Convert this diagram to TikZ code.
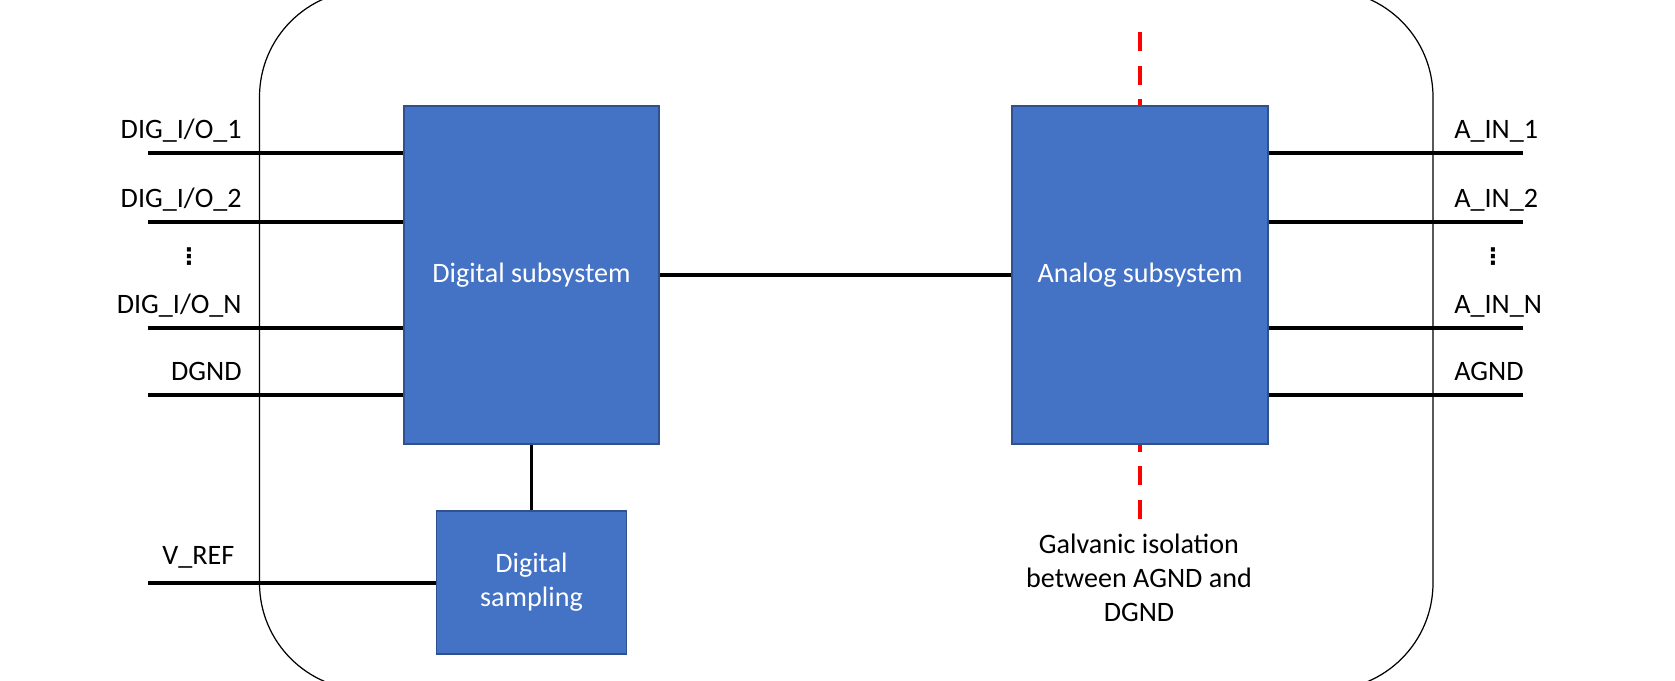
\documentclass[tikz,border=0pt]{standalone}
\usepackage{fontspec}
\setmainfont{Carlito}
\newfontfamily\symfont{DejaVu Sans}
\usepackage{xcolor}
\definecolor{boxblue}{RGB}{68,114,196}
\definecolor{boxedge}{RGB}{47,82,143}
\definecolor{isored}{RGB}{255,0,0}
\usepackage{tikz}
\usetikzlibrary{positioning}

\begin{document}
\begin{tikzpicture}[
  subsys/.style={
    rectangle, draw=boxedge, line width=0.6pt,
    fill=boxblue,
    font=\fontsize{16}{19.3}\selectfont,
    align=center,
    text=white
  },
  sigline/.style={line width=2pt, draw=black},
  isoline/.style={line width=2.5pt, draw=isored, dash pattern=on 0.386cm off 0.286cm},
  pinlabel/.style={font=\fontsize{16}{19.3}\selectfont, inner sep=0pt},
  pindots/.style={font=\symfont\bfseries\fontsize{13}{15}\selectfont, inner sep=0pt}
]
\useasboundingbox (0,0) rectangle (33.5,13.62);

% housing
\draw[line width=0.7pt, rounded corners=2.14cm] (5.19,-0.18) rectangle (28.66,13.82);

\node[subsys, minimum width=5.1cm, minimum height=6.76cm] (digital) at (10.63,8.12) {Digital subsystem};
\node[subsys, minimum width=5.12cm, minimum height=6.76cm] (analog) at (22.80,8.12) {Analog subsystem};
\node[subsys, minimum width=3.8cm, minimum height=2.86cm] (sampling) at (10.63,1.97) {Digital\\sampling};

% pin ends
\coordinate (din1) at (2.96,10.56);
\coordinate (din2) at (2.96,9.18);
\coordinate (dinN) at (2.96,7.06);
\coordinate (dgnd) at (2.96,5.72);
\coordinate (vref) at (2.96,1.96);
\coordinate (ain1) at (30.46,10.56);
\coordinate (ain2) at (30.46,9.18);
\coordinate (ainN) at (30.46,7.06);
\coordinate (agnd) at (30.46,5.72);

\draw[sigline] (din1) -- (din1 -| digital.west);
\draw[sigline] (din2) -- (din2 -| digital.west);
\draw[sigline] (dinN) -- (dinN -| digital.west);
\draw[sigline] (dgnd) -- (dgnd -| digital.west);
\draw[sigline] (vref) -- (vref -| sampling.west);
\draw[sigline] (ain1) -- (ain1 -| analog.east);
\draw[sigline] (ain2) -- (ain2 -| analog.east);
\draw[sigline] (ainN) -- (ainN -| analog.east);
\draw[sigline] (agnd) -- (agnd -| analog.east);

\draw[sigline] (digital) -- (analog);
\draw[sigline] (digital) -- (sampling);

% isolation barrier
\coordinate (isotop) at (22.80,12.98);
\coordinate (isobot) at (22.80,3.24);
\draw[isoline] (isotop) -- (analog.north);
\draw[isoline] (isobot) -- (analog.south);

\node[pinlabel, anchor=base east] (ldin1) at (4.84,10.84) {DIG\_I/O\_1};
\node[pinlabel, anchor=base east] (ldin2) at (4.84,9.46) {DIG\_I/O\_2};
\node[pindots] (ldots) at (3.78,8.48) {⋮};
\node[pinlabel, anchor=base east] (ldinN) at (4.84,7.34) {DIG\_I/O\_N};
\node[pinlabel, anchor=base east] (ldgnd) at (4.84,6.01) {DGND};
\node[pinlabel, anchor=base west] (lvref) at (3.24,2.32) {V\_REF};

\node[pinlabel, anchor=base west] (lain1) at (29.08,10.84) {A\_IN\_1};
\node[pinlabel, anchor=base west] (lain2) at (29.08,9.46) {A\_IN\_2};
\node[pindots] (rdots) at (29.86,8.48) {⋮};
\node[pinlabel, anchor=base west] (lainN) at (29.08,7.34) {A\_IN\_N};
\node[pinlabel, anchor=base west] (lagnd) at (29.08,6.01) {AGND};

\node[pinlabel, align=center] (isonote) at (22.78,2.07)
  {Galvanic isolation\\between AGND and\\DGND};
\end{tikzpicture}
\end{document}
